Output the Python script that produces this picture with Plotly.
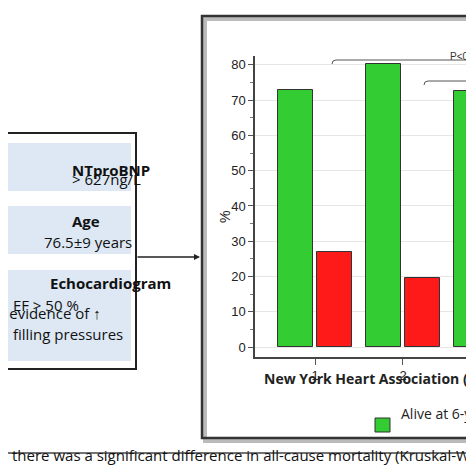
import plotly.graph_objects as go

W = H = 474

nyha_class = [1, 2, 3]
alive = [73.0, 80.3, 72.5]
dead = [27.0, 19.5, 27.5]
y_ticks = [0, 10, 20, 30, 40, 50, 60, 70, 80]


def px(x):
    return x / W


def py(y):
    return 1 - y / H


fig = go.Figure()
fig.add_trace(go.Bar(x=nyha_class, y=alive, width=0.4, offset=-0.42, name="Alive at 6-yr",
                     marker=dict(color="#33cc33", line=dict(color="#333333", width=1))))
fig.add_trace(go.Bar(x=nyha_class, y=dead, width=0.4, offset=0.02, name="Dead",
                     marker=dict(color="#ff1a1a", line=dict(color="#333333", width=1))))

font_ax = dict(family="Liberation Sans", size=13, color="#222222")
body = "Open Sans"

shapes = [
    # chart frame with shadow
    dict(type="rect", xref="paper", yref="paper", x0=px(197), x1=px(480), y0=py(433), y1=py(11),
         line=dict(color="#bbbbbb", width=4)),
    dict(type="rect", xref="paper", yref="paper", x0=px(194), x1=px(480), y0=py(430), y1=py(8),
         line=dict(color="#333333", width=2.5)),
    # left box
    dict(type="rect", xref="paper", yref="paper", x0=px(-5), x1=px(128), y0=py(361), y1=py(125),
         line=dict(color="#222222", width=2)),
    dict(type="rect", xref="paper", yref="paper", x0=px(-5), x1=px(123), y0=py(183), y1=py(135),
         fillcolor="#dde8f4", line=dict(width=0), layer="below"),
    dict(type="rect", xref="paper", yref="paper", x0=px(-5), x1=px(123), y0=py(246), y1=py(198),
         fillcolor="#dde8f4", line=dict(width=0), layer="below"),
    dict(type="rect", xref="paper", yref="paper", x0=px(-5), x1=px(123), y0=py(353), y1=py(262),
         fillcolor="#dde8f4", line=dict(width=0), layer="below"),
    # legend swatch
    dict(type="rect", xref="paper", yref="paper", x0=px(367), x1=px(382), y0=py(424), y1=py(410),
         fillcolor="#33cc33", line=dict(color="#333333", width=1)),
    # bottom caption lines
    dict(type="line", xref="paper", yref="paper", x0=0, x1=1, y0=py(445), y1=py(445),
         line=dict(color="#444444", width=1.5)),
    dict(type="line", xref="paper", yref="paper", x0=0, x1=1, y0=py(472), y1=py(472),
         line=dict(color="#444444", width=1.5)),
    # significance brackets
    dict(type="path", xref="paper", yref="paper",
         path=f"M {px(324)} {py(56)} Q {px(324)} {py(52)} {px(328)} {py(52)} L {px(474)} {py(52)}",
         line=dict(color="#555555", width=1)),
    dict(type="path", xref="paper", yref="paper",
         path=f"M {px(416)} {py(77)} Q {px(416)} {py(73)} {px(420)} {py(73)} L {px(474)} {py(73)}",
         line=dict(color="#555555", width=1)),
]

ann = [
    dict(x=px(62), y=py(150), text="<b>NTproBNP</b>", font=dict(family=body, size=15, color="#111")),
    dict(x=px(62), y=py(171), text="> 627ng/L", font=dict(family=body, size=15, color="#111")),
    dict(x=px(62), y=py(213), text="<b>Age</b>", font=dict(family=body, size=15, color="#111")),
    dict(x=px(34), y=py(234), text="76.5±9 years", font=dict(family=body, size=15, color="#111")),
    dict(x=px(40), y=py(275), text="<b>Echocardiogram</b>", font=dict(family=body, size=15, color="#111")),
    dict(x=px(-14), y=py(297), xanchor="left", text="➢ EF > 50 %", font=dict(family=body, size=15, color="#111")),
    dict(x=px(-25), y=py(317), xanchor="left", text="No evidence of ↑", font=dict(family=body, size=15, color="#111")),
    dict(x=px(-14), y=py(338), xanchor="left", text="➢ filling pressures", font=dict(family=body, size=15, color="#111")),
    dict(x=px(192), y=py(249), ax=-64, ay=0, axref="pixel", ayref="pixel",
         showarrow=True, arrowhead=2, arrowsize=0.8, arrowwidth=1.5, arrowcolor="#222", text=""),
    dict(x=px(217), y=py(209), text="%", textangle=-90, font=dict(family="Liberation Sans", size=14, color="#222")),
    dict(x=px(254), y=py(382), xanchor="left", text="<b>New York Heart Association (NYHA) class</b>",
         font=dict(family=body, size=14, color="#222")),
    dict(x=px(391), y=py(417), xanchor="left", text="Alive at 6-yr", font=dict(family=body, size=14, color="#222")),
    dict(x=px(440), y=py(41), xanchor="left", text="P<0.05", font=dict(family="Liberation Sans", size=10, color="#333")),
    dict(x=px(2), y=py(459), xanchor="left",
         text="there was a significant difference in all-cause mortality (Kruskal-Wallis test)",
         font=dict(family=body, size=15, color="#111")),
]
for a in ann:
    a.setdefault("xref", "paper")
    a.setdefault("yref", "paper")
    a.setdefault("showarrow", False)

fig.update_layout(
    width=W, height=H, margin=dict(l=0, r=0, t=0, b=0),
    paper_bgcolor="white", plot_bgcolor="white", showlegend=False,
    shapes=shapes, annotations=ann, bargap=0,
    xaxis=dict(domain=[px(247), 1], range=[0.318, 2.898], tickvals=nyha_class,
               tickfont=dict(family="Liberation Sans", size=13, color="#222"), ticks="outside",
               ticklen=6, tickcolor="#555", showline=True, linecolor="#444", linewidth=1.5,
               showgrid=False, zeroline=False),
    yaxis=dict(domain=[py(349), py(48)], range=[-2.8, 82.5], tickvals=y_ticks,
               tickfont=font_ax, ticks="outside", ticklen=5, tickcolor="#555",
               showline=True, linecolor="#444", linewidth=1.5, gridcolor="#e6e6e6",
               zeroline=False, minor=dict(dtick=5, ticks="outside", ticklen=3, tickcolor="#777")),
)
fig.update_yaxes(tickprefix="<b>", ticksuffix="</b>")
fig.update_xaxes(tickprefix="<b>", ticksuffix="</b>")

fig.write_html("out.html")
